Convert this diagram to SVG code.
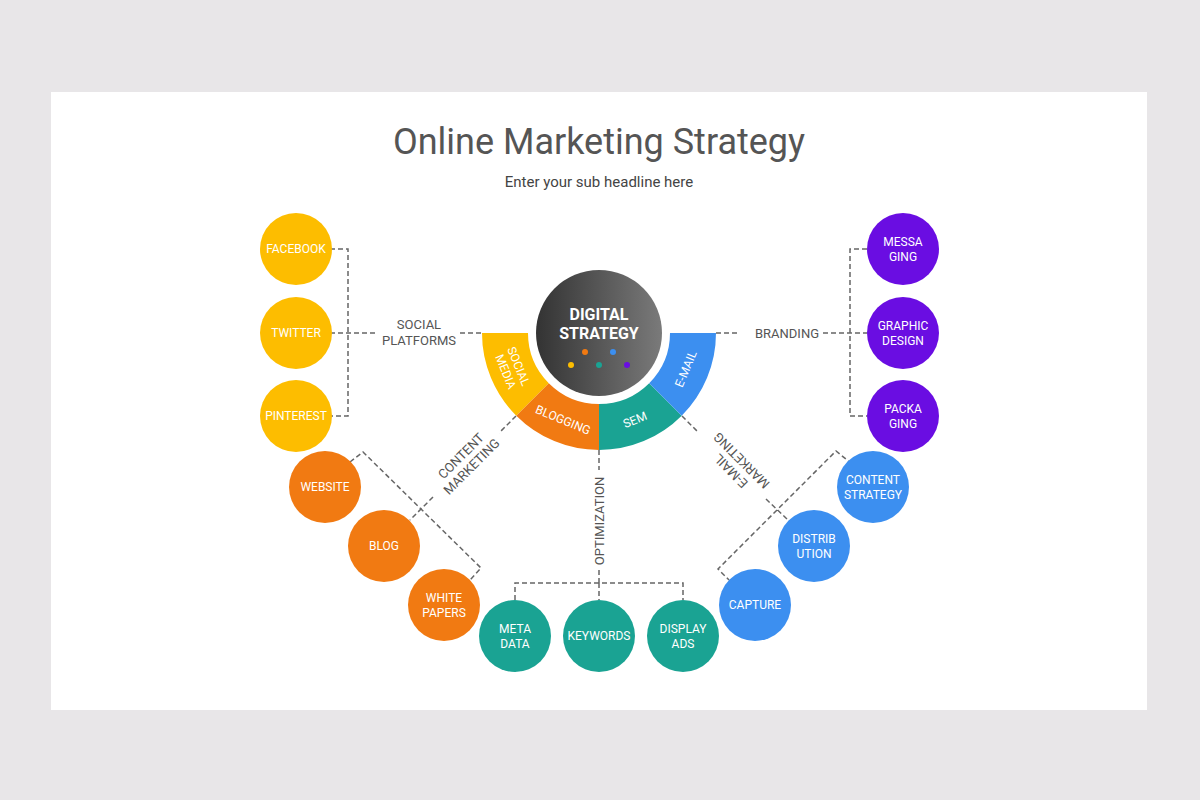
<svg xmlns="http://www.w3.org/2000/svg" width="1200" height="800" viewBox="0 0 1200 800">
<defs>
<linearGradient id="g" x1="0" y1="0" x2="1" y2="0"><stop offset="0" stop-color="#333"/><stop offset="1" stop-color="#7a7a7a"/></linearGradient>
<style>
text{font-family:Roboto,"Liberation Sans",sans-serif}
.n{fill:#fff;font-size:12px;text-anchor:middle}
.l{fill:#555;font-size:13px;text-anchor:middle}
.d{fill:none;stroke:#666;stroke-width:1.5;stroke-dasharray:5 3}
.y{fill:#FDBD00}.o{fill:#F17A12}.t{fill:#1AA393}.b{fill:#3C8FF0}.p{fill:#6A0DE2}
</style>
</defs>
<rect width="1200" height="800" fill="#e8e6e8"/>
<rect x="51" y="92" width="1096" height="618" fill="#fff"/>
<text x="599" y="154" font-size="36" fill="#555" text-anchor="middle">Online Marketing Strategy</text>
<text x="599" y="187" font-size="15" fill="#444" text-anchor="middle">Enter your sub headline here</text>
<g id="connectors">
<path class="d" d="M460,333H482M330,333H375M330,249H348V416H330"/>
<path class="d" d="M716,333H740M823,333H867M867,249H850V416H867"/>
<path class="d" d="M599,450V470M599,570V583M515,600V583H683V600M599,583V600"/>
<path class="d" d="M516,416L499,433M433,497L410,520M350,462L363,452L481,568L470,580"/>
<path class="d" d="M682,416L699,433M766,499L788,520M852,464L836,451L718,569L729,580"/>
</g>
<g id="ring">
<path class="y" d="M482,333A117,117 0 0,0 516.3,415.7L548.8,383.2A71,71 0 0,1 528,333Z"/>
<path class="o" d="M516.3,415.7A117,117 0 0,0 599,450L599,404A71,71 0 0,1 548.8,383.2Z"/>
<path class="t" d="M599,450A117,117 0 0,0 681.7,415.7L649.2,383.2A71,71 0 0,1 599,404Z"/>
<path class="b" d="M681.7,415.7A117,117 0 0,0 716,333L670,333A71,71 0 0,1 649.2,383.2Z"/>
<g class="n">
<text transform="translate(512,369) rotate(67.5)" y="-3" class="n">SOCIAL<tspan x="0" dy="14">MEDIA</tspan></text>
<text transform="translate(563,420) rotate(22.5)" y="4" class="n">BLOGGING</text>
<text transform="translate(635,420) rotate(-22.5)" y="4" class="n">SEM</text>
<text transform="translate(686,369) rotate(-67.5)" y="4" class="n">E-MAIL</text>
</g>
</g>
<g id="center">
<circle cx="599" cy="333" r="63" fill="url(#g)"/>
<text x="599" y="320" font-size="16" font-weight="bold" fill="#fff" text-anchor="middle">DIGITAL</text>
<text x="599" y="339" font-size="16" font-weight="bold" fill="#fff" text-anchor="middle">STRATEGY</text>
<circle cx="585" cy="352" r="3" class="o"/><circle cx="613" cy="352" r="3" class="b"/>
<circle cx="571" cy="365" r="3" class="y"/><circle cx="599" cy="365" r="3" class="t"/><circle cx="627" cy="365" r="3" class="p"/>
</g>
<g id="labels">
<text class="l" x="419" y="329">SOCIAL<tspan x="419" dy="16">PLATFORMS</tspan></text>
<text class="l" x="787" y="338">BRANDING</text>
<text class="l" transform="translate(604,521) rotate(-90)">OPTIMIZATION</text>
<text class="l" transform="translate(467,462) rotate(-45)" y="-4">CONTENT<tspan x="0" dy="15">MARKETING</tspan></text>
<text class="l" transform="translate(737,465) rotate(225)" y="-4">E-MAIL<tspan x="0" dy="15">MARKETING</tspan></text>
</g>
<g id="fb"><circle cx="296" cy="249" r="36" class="y"/><text class="n" x="296" y="253">FACEBOOK</text></g>
<g id="tw"><circle cx="296" cy="333" r="36" class="y"/><text class="n" x="296" y="337">TWITTER</text></g>
<g id="pi"><circle cx="296" cy="416" r="36" class="y"/><text class="n" x="296" y="420">PINTEREST</text></g>
<g id="ms"><circle cx="903" cy="249" r="36" class="p"/><text class="n" x="903" y="246">MESSA<tspan x="903" dy="15">GING</tspan></text></g>
<g id="gd"><circle cx="903" cy="333" r="36" class="p"/><text class="n" x="903" y="330">GRAPHIC<tspan x="903" dy="15">DESIGN</tspan></text></g>
<g id="pk"><circle cx="903" cy="416" r="36" class="p"/><text class="n" x="903" y="413">PACKA<tspan x="903" dy="15">GING</tspan></text></g>
<g id="web"><circle cx="325" cy="487" r="36" class="o"/><text class="n" x="325" y="491">WEBSITE</text></g>
<g id="blog"><circle cx="384" cy="546" r="36" class="o"/><text class="n" x="384" y="550">BLOG</text></g>
<g id="wp"><circle cx="444" cy="605" r="36" class="o"/><text class="n" x="444" y="602">WHITE<tspan x="444" dy="15">PAPERS</tspan></text></g>
<g id="md"><circle cx="515" cy="636" r="36" class="t"/><text class="n" x="515" y="633">META<tspan x="515" dy="15">DATA</tspan></text></g>
<g id="kw"><circle cx="599" cy="636" r="36" class="t"/><text class="n" x="599" y="640">KEYWORDS</text></g>
<g id="da"><circle cx="683" cy="636" r="36" class="t"/><text class="n" x="683" y="633">DISPLAY<tspan x="683" dy="15">ADS</tspan></text></g>
<g id="cs"><circle cx="873" cy="487" r="36" class="b"/><text class="n" x="873" y="484">CONTENT<tspan x="873" dy="15">STRATEGY</tspan></text></g>
<g id="di"><circle cx="814" cy="546" r="36" class="b"/><text class="n" x="814" y="543">DISTRIB<tspan x="814" dy="15">UTION</tspan></text></g>
<g id="ca"><circle cx="755" cy="605" r="36" class="b"/><text class="n" x="755" y="609">CAPTURE</text></g>
</svg>
